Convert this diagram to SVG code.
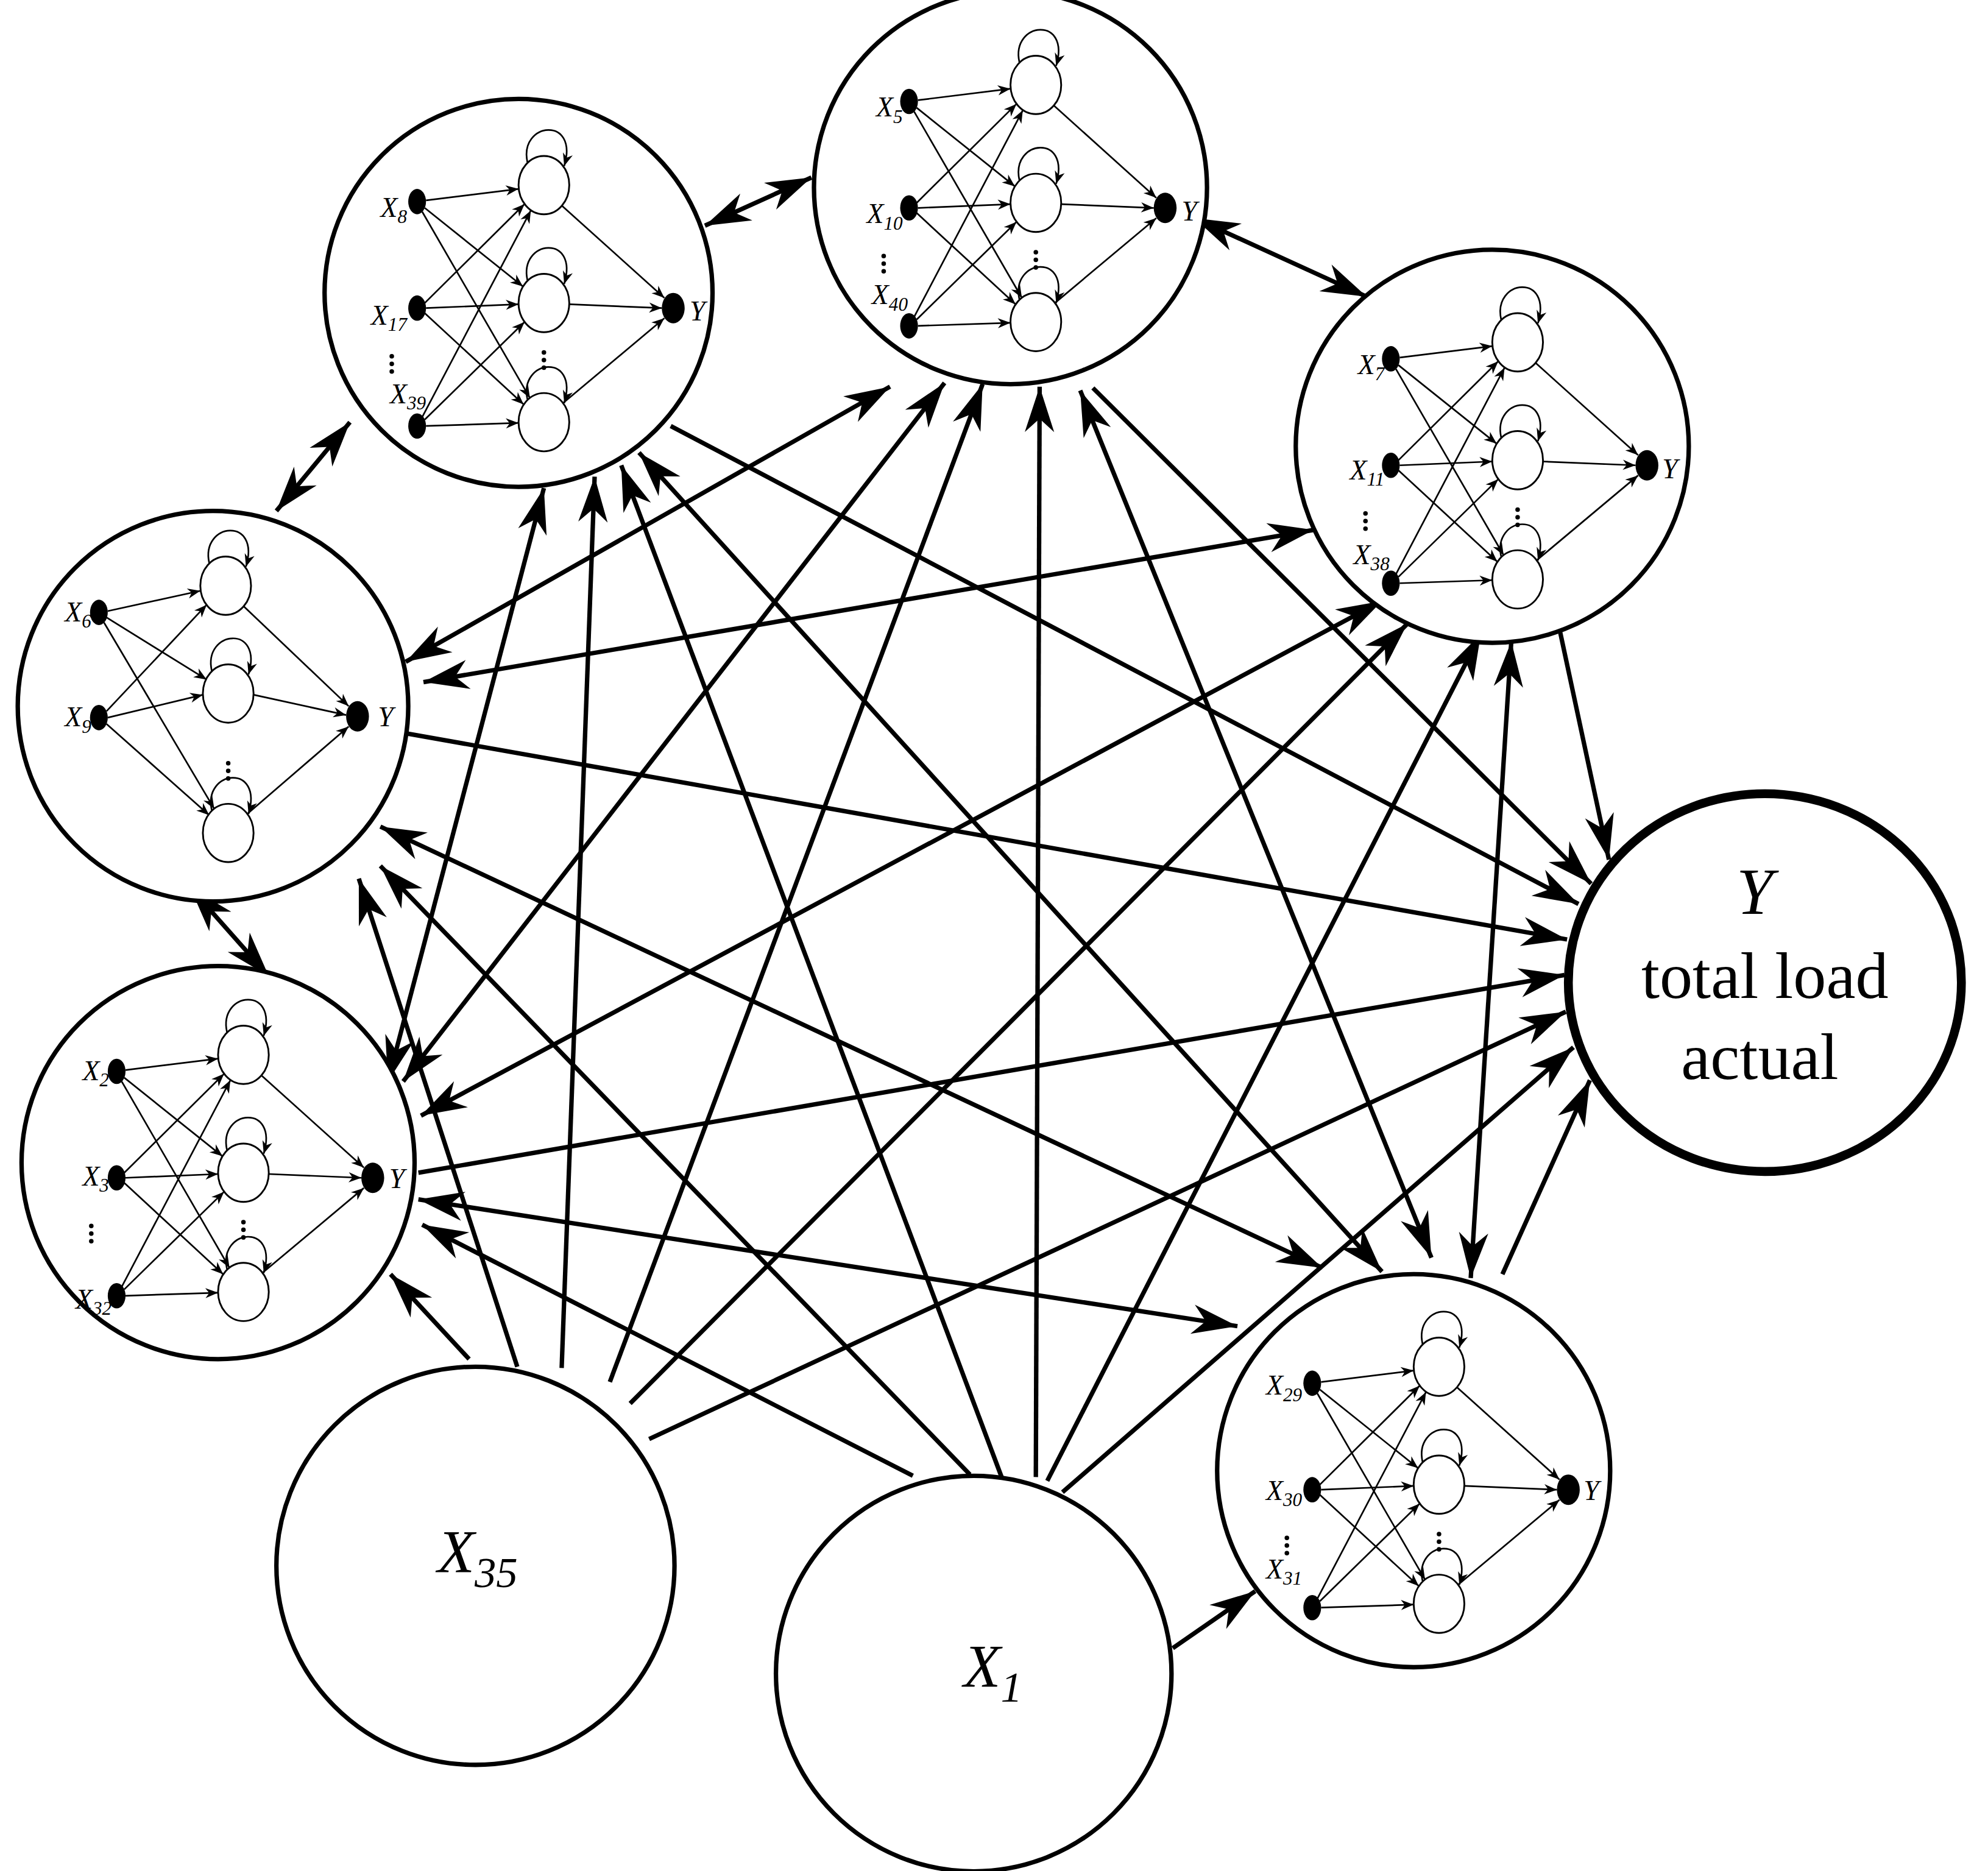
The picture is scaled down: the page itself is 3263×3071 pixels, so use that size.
<svg xmlns="http://www.w3.org/2000/svg" xmlns:xlink="http://www.w3.org/1999/xlink" width="3263" height="3071" viewBox="0 0 3263 3071">
<style>
.big{fill:#fff;stroke:#000;stroke-width:3.5}
.conn line,.conn path{stroke:#000;stroke-width:3.5;fill:none}
.d{marker-start:url(#ah);marker-end:url(#ah)}
.s{marker-end:url(#ah)}
.t{stroke:#000;stroke-width:1.3;fill:none;marker-end:url(#sm)}
.n{fill:#fff;stroke:#000;stroke-width:1.4}
.lb{font-family:"Liberation Serif","Times New Roman",serif;font-style:italic;font-size:22px}
.sub{font-size:15px}
.bt{font-family:"Liberation Serif","Times New Roman",serif;font-size:52px;text-anchor:middle}
</style>
<defs>
<marker id="ah" markerUnits="userSpaceOnUse" markerWidth="40" markerHeight="30" viewBox="-36 -13 38 26" refX="0" refY="0" orient="auto-start-reverse"><path d="M0,0 L-34,-11 L-24,0 L-34,11 Z" fill="#000"/></marker>
<marker id="sm" markerUnits="userSpaceOnUse" markerWidth="12" markerHeight="10" viewBox="-11 -5 12 10" refX="0" refY="0" orient="auto"><path d="M0,0 L-10,-4 L-7,0 L-10,4 Z" fill="#000"/></marker>
<g id="net3">
<path class="t" d="M-73,-73 L0,-82"/><path class="t" d="M-74,-67 L3.5,-5"/><path class="t" d="M-76,-64 L9,83"/>
<path class="t" d="M-74,8 L4.7,-70"/><path class="t" d="M-73,12 L0,9"/><path class="t" d="M-74,16 L4,88"/>
<path class="t" d="M-76,98 L9.7,-65"/><path class="t" d="M-74,100 L4.7,23"/><path class="t" d="M-73,105 L0,102.6"/>
<path class="t" d="M34.5,-68.5 L115,4"/><path class="t" d="M40,9 L113,12"/><path class="t" d="M35,87 L115,20"/>
<ellipse class="n" cx="20" cy="-85" rx="20" ry="23"/><ellipse class="n" cx="20" cy="8" rx="20" ry="23"/><ellipse class="n" cx="20" cy="102" rx="20" ry="23"/>
<path class="t" d="M7,-103 C0,-135 48,-140 36,-100"/><path class="t" d="M7,-10 C0,-42 48,-47 36,-7"/><path class="t" d="M7,84 C0,52 48,47 36,87"/>
<ellipse cx="-80" cy="-72" rx="7" ry="10"/><ellipse cx="-80" cy="12" rx="7" ry="10"/><ellipse cx="-80" cy="105" rx="7" ry="10"/>
<ellipse cx="122" cy="12" rx="9" ry="12"/>
<circle cx="20" cy="47" r="1.8"/><circle cx="20" cy="53" r="1.8"/><circle cx="20" cy="59" r="1.8"/>
<circle cx="-100" cy="50" r="1.8"/><circle cx="-100" cy="56" r="1.8"/><circle cx="-100" cy="62" r="1.8"/>
</g>
<g id="net2">
<path class="t" d="M-83,-75 L-10,-91"/><path class="t" d="M-84,-70 L-5,-21"/><path class="t" d="M-86,-66 L1,81"/>
<path class="t" d="M-84,4 L-5,-80"/><path class="t" d="M-83,9 L-8,-9"/><path class="t" d="M-84,14 L-3,86"/>
<path class="t" d="M24,-79 L107,0"/><path class="t" d="M32,-9 L105,7"/><path class="t" d="M27,85 L107,16"/>
<ellipse class="n" cx="10" cy="-95" rx="20" ry="23"/><ellipse class="n" cx="12" cy="-10" rx="20" ry="23"/><ellipse class="n" cx="12" cy="100" rx="20" ry="23"/>
<path class="t" d="M-3,-113 C-10,-145 38,-150 26,-110"/><path class="t" d="M-1,-28 C-8,-60 40,-65 28,-25"/><path class="t" d="M-1,82 C-8,50 40,45 28,85"/>
<ellipse cx="-90" cy="-74" rx="7" ry="10"/><ellipse cx="-90" cy="9" rx="7" ry="10"/>
<ellipse cx="114" cy="8" rx="9" ry="12"/>
<circle cx="12" cy="45" r="1.8"/><circle cx="12" cy="51" r="1.8"/><circle cx="12" cy="57" r="1.8"/>
</g>
</defs>
<rect width="3263" height="3071" fill="#fff"/>
<g transform="scale(2.081)">
<g id="connectors" class="conn">
<line class="d" x1="556" y1="178" x2="640" y2="140"/>
<line class="d" x1="942" y1="172" x2="1078" y2="234"/>
<line class="d" x1="218" y1="403" x2="276" y2="333"/>
<line class="d" x1="150" y1="700" x2="212" y2="770"/>
<line class="d" x1="1192" y1="506" x2="1160" y2="1008"/>
<line class="d" x1="330" y1="946" x2="976" y2="1046"/>
<line class="d" x1="334" y1="538" x2="1036" y2="418"/>
<line class="d" x1="332" y1="880" x2="1090" y2="474"/>
<line class="d" x1="318" y1="853" x2="745" y2="302"/>
<line class="d" x1="320" y1="522" x2="702" y2="305"/>
<line class="d" x1="429" y1="385" x2="306" y2="853"/>
<line class="d" x1="504" y1="357" x2="1090" y2="1003"/>
<line class="d" x1="852" y1="308" x2="1129" y2="992"/>
<line class="d" x1="300" y1="652" x2="1043" y2="1000"/>
<line class="s" x1="529" y1="336" x2="1245" y2="713"/>
<line class="s" x1="862" y1="306" x2="1255" y2="697"/>
<line class="s" x1="1230" y1="496" x2="1269" y2="678"/>
<line class="s" x1="318" y1="578" x2="1236" y2="741"/>
<line class="s" x1="330" y1="925" x2="1234" y2="769"/>
<line class="s" x1="512" y1="1135" x2="1235" y2="798"/>
<line class="s" x1="838" y1="1177" x2="1241" y2="826"/>
<line class="s" x1="1185" y1="1005" x2="1254" y2="852"/>
<line class="s" x1="370" y1="1072" x2="308" y2="1005"/>
<line class="s" x1="408" y1="1078" x2="283" y2="693"/>
<line class="s" x1="443" y1="1079" x2="469" y2="376"/>
<line class="s" x1="481" y1="1090" x2="775" y2="303"/>
<line class="s" x1="497" y1="1107" x2="1110" y2="492"/>
<line class="s" x1="720" y1="1164" x2="333" y2="966"/>
<line class="s" x1="765" y1="1163" x2="300" y2="683"/>
<line class="s" x1="790" y1="1165" x2="490" y2="367"/>
<line class="s" x1="817" y1="1165" x2="820" y2="305"/>
<line class="s" x1="826" y1="1168" x2="1168" y2="500"/>
<line class="s" x1="925" y1="1300" x2="990" y2="1255"/>
</g>
<g id="n8"><circle class="big" cx="409" cy="231" r="153"/><use xlink:href="#net3" href="#net3" transform="translate(409,231)"/>
<text class="lb" x="321" y="171" text-anchor="end">X<tspan class="sub" dy="5">8</tspan></text>
<text class="lb" x="321" y="256" text-anchor="end">X<tspan class="sub" dy="5">17</tspan></text>
<text class="lb" x="336" y="318" text-anchor="end">X<tspan class="sub" dy="5">39</tspan></text>
<text class="lb" x="544" y="253">Y</text></g>
<g id="n5"><circle class="big" cx="797" cy="148" r="155"/><use xlink:href="#net3" href="#net3" transform="translate(797,152)"/>
<text class="lb" x="712" y="92" text-anchor="end">X<tspan class="sub" dy="5">5</tspan></text>
<text class="lb" x="712" y="176" text-anchor="end">X<tspan class="sub" dy="5">10</tspan></text>
<text class="lb" x="716" y="240" text-anchor="end">X<tspan class="sub" dy="5">40</tspan></text>
<text class="lb" x="932" y="174">Y</text></g>
<g id="n7"><circle class="big" cx="1177" cy="352" r="155"/><use xlink:href="#net3" href="#net3" transform="translate(1177,355)"/>
<text class="lb" x="1092" y="295" text-anchor="end">X<tspan class="sub" dy="5">7</tspan></text>
<text class="lb" x="1092" y="378" text-anchor="end">X<tspan class="sub" dy="5">11</tspan></text>
<text class="lb" x="1096" y="445" text-anchor="end">X<tspan class="sub" dy="5">38</tspan></text>
<text class="lb" x="1311" y="377">Y</text></g>
<g id="n6"><circle class="big" cx="168" cy="557" r="154"/><use xlink:href="#net2" href="#net2" transform="translate(168,557)"/>
<text class="lb" x="72" y="490" text-anchor="end">X<tspan class="sub" dy="5">6</tspan></text>
<text class="lb" x="72" y="573" text-anchor="end">X<tspan class="sub" dy="5">9</tspan></text>
<text class="lb" x="298" y="573">Y</text></g>
<g id="n2"><circle class="big" cx="172" cy="917" r="155"/><use xlink:href="#net3" href="#net3" transform="translate(172,917)"/>
<text class="lb" x="86" y="852" text-anchor="end">X<tspan class="sub" dy="5">2</tspan></text>
<text class="lb" x="86" y="935" text-anchor="end">X<tspan class="sub" dy="5">3</tspan></text>
<text class="lb" x="88" y="1032" text-anchor="end">X<tspan class="sub" dy="5">32</tspan></text>
<text class="lb" x="307" y="937">Y</text></g>
<g id="n29"><circle class="big" cx="1115" cy="1160" r="155"/><use xlink:href="#net3" href="#net3" transform="translate(1115,1163)"/>
<text class="lb" x="1027" y="1100" text-anchor="end">X<tspan class="sub" dy="5">29</tspan></text>
<text class="lb" x="1027" y="1183" text-anchor="end">X<tspan class="sub" dy="5">30</tspan></text>
<text class="lb" x="1027" y="1245" text-anchor="end">X<tspan class="sub" dy="5">31</tspan></text>
<text class="lb" x="1249" y="1183">Y</text></g>
<g id="x35"><circle class="big" cx="375" cy="1235" r="157"/>
<text class="lb" x="345" y="1240" style="font-size:48px">X<tspan dy="12" style="font-size:34px">35</tspan></text></g>
<g id="x1"><circle class="big" cx="768" cy="1320" r="156"/>
<text class="lb" x="760" y="1330" style="font-size:48px">X<tspan dy="12" style="font-size:34px">1</tspan></text></g>
<g id="y"><ellipse cx="1392" cy="775" rx="155" ry="149" fill="#fff" stroke="#000" stroke-width="7"/>
<text class="bt" x="1384" y="721" style="font-style:italic">Y</text>
<text class="bt" x="1392" y="787">total load</text>
<text class="bt" x="1388" y="851">actual</text></g>
</g>
</svg>
